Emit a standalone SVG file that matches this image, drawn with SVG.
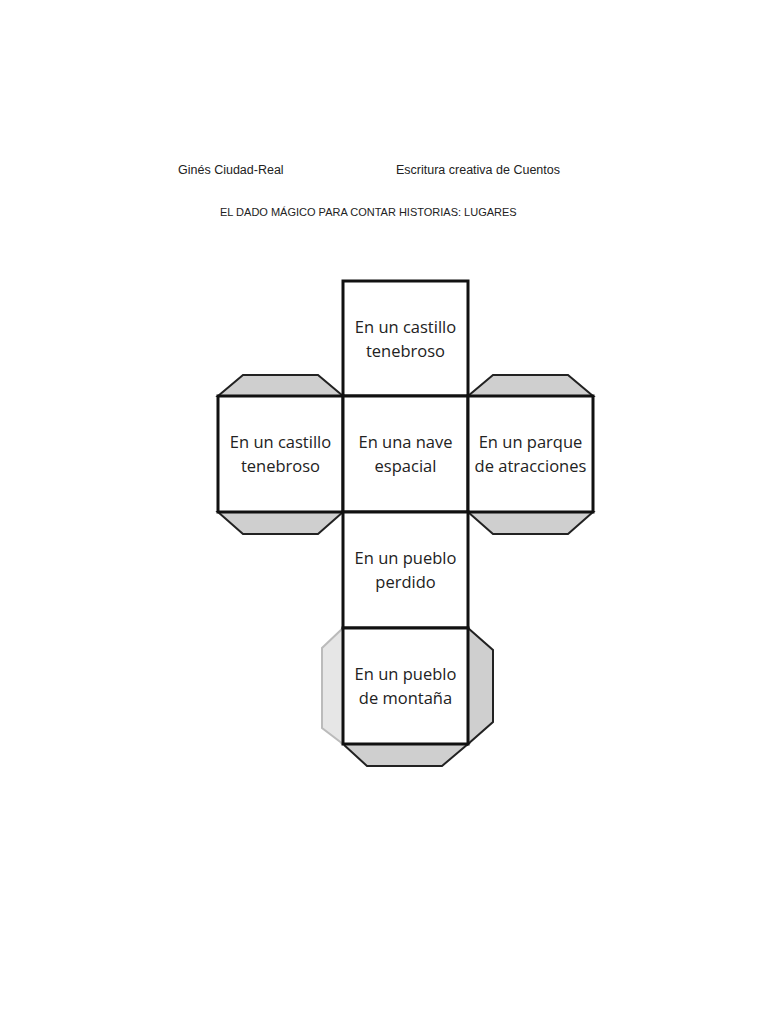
<svg xmlns="http://www.w3.org/2000/svg" width="768" height="1024" viewBox="0 0 768 1024">
<style>
.h{font-family:"Liberation Sans",Arial,sans-serif;font-size:12.5px;fill:#222}
.f{fill:#fff;stroke:#111;stroke-width:3}
.tab{fill:#cfcfcf;stroke:#222;stroke-width:2}
.t{font-family:"Open Sans","Liberation Sans",sans-serif;font-size:16.5px;fill:#222;text-anchor:middle}
</style>
<rect width="768" height="1024" fill="#fff"/>
<text class="h" x="178" y="174">Ginés Ciudad-Real</text>
<text class="h" x="396" y="174">Escritura creativa de Cuentos</text>
<text class="h" x="220" y="216" style="font-size:11px">EL DADO MÁGICO PARA CONTAR HISTORIAS: LUGARES</text>
<g id="tabs">
<polygon class="tab" points="218,396 243,375 318,375 343,396"/>
<polygon class="tab" points="218,512 243,534 318,534 343,512"/>
<polygon class="tab" points="468,396 493,375 568,375 593,396"/>
<polygon class="tab" points="468,512 493,534 568,534 593,512"/>
<polygon class="tab" points="343,744 367,766 442,766 468,744"/>
<polygon class="tab" points="468,628 493,650 493,722 468,744"/>
<polygon points="343,628 322,648 322,728 343,744" fill="#e6e6e6" stroke="#bbb" stroke-width="2"/>
</g>
<g id="top"><rect class="f" x="343" y="281" width="125" height="115"/><text class="t" x="405.5" y="333">En un castillo</text><text class="t" x="405.5" y="357">tenebroso</text></g>
<g id="left"><rect class="f" x="218" y="396" width="125" height="116"/><text class="t" x="280.5" y="448">En un castillo</text><text class="t" x="280.5" y="472">tenebroso</text></g>
<g id="center"><rect class="f" x="343" y="396" width="125" height="116"/><text class="t" x="405.5" y="448">En una nave</text><text class="t" x="405.5" y="472">espacial</text></g>
<g id="right"><rect class="f" x="468" y="396" width="125" height="116"/><text class="t" x="530.5" y="448">En un parque</text><text class="t" x="530.5" y="472">de atracciones</text></g>
<g id="below"><rect class="f" x="343" y="512" width="125" height="116"/><text class="t" x="405.5" y="564">En un pueblo</text><text class="t" x="405.5" y="588">perdido</text></g>
<g id="bottom"><rect class="f" x="343" y="628" width="125" height="116"/><text class="t" x="405.5" y="680">En un pueblo</text><text class="t" x="405.5" y="704">de montaña</text></g>
<g id="connectors"/>
</svg>
